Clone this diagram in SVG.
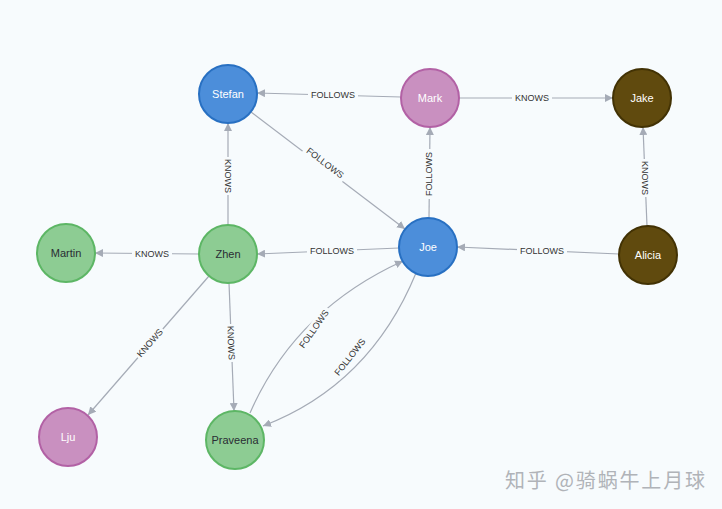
<svg xmlns="http://www.w3.org/2000/svg" width="722" height="509" viewBox="0 0 722 509">
<style>
.e{stroke:#a5abb6;stroke-width:1.2;fill:none;marker-end:url(#a)}
.l{font-family:"Liberation Sans",Arial,sans-serif;font-size:9px;fill:#333;text-anchor:middle;dominant-baseline:central}
.bg{fill:#f7fbfd}
.n{stroke-width:2}
.t{font-family:"Liberation Sans",Arial,sans-serif;font-size:11px;text-anchor:middle;dominant-baseline:central}
.blue{fill:#4c8eda;stroke:#2870c2}
.pink{fill:#c990c0;stroke:#b261a5}
.brown{fill:#604a0e;stroke:#423204}
.green{fill:#8dcc93;stroke:#5db665}
</style>
<defs><marker id="a" viewBox="0 0 10 10" refX="10" refY="5" markerWidth="8" markerHeight="8" orient="auto" markerUnits="userSpaceOnUse"><path d="M0,0L10,5L0,10z" fill="#a5abb6"/></marker></defs>
<rect width="722" height="509" fill="#f7fbfd"/>
<g id="connectors">
<line class="e" x1="401" y1="97" x2="257" y2="93"/>
<line class="e" x1="459" y1="98" x2="613" y2="98"/>
<line class="e" x1="251" y1="112" x2="405" y2="229"/>
<line class="e" x1="429" y1="218" x2="430" y2="127"/>
<line class="e" x1="228" y1="225" x2="228" y2="123"/>
<line class="e" x1="647" y1="226" x2="643" y2="127"/>
<line class="e" x1="399" y1="248" x2="257" y2="254"/>
<line class="e" x1="619" y1="254" x2="457" y2="247"/>
<line class="e" x1="199" y1="254" x2="95" y2="253"/>
<line class="e" x1="209" y1="276" x2="88" y2="415"/>
<line class="e" x1="229" y1="283" x2="234" y2="411"/>
<path class="e" d="M250,413 Q295,310 403,261"/>
<path class="e" d="M416,273 Q370,385 263,426"/>
<g>
<rect class="bg" x="308" y="89" width="50" height="12"/><text class="l" x="333" y="95">FOLLOWS</text>
<rect class="bg" x="512" y="92" width="40" height="12"/><text class="l" x="532" y="98">KNOWS</text>
<g transform="translate(325,163) rotate(37.4)"><rect class="bg" x="-25" y="-6" width="50" height="12"/><text class="l">FOLLOWS</text></g>
<g transform="translate(429,174) rotate(-90)"><rect class="bg" x="-25" y="-6" width="50" height="12"/><text class="l">FOLLOWS</text></g>
<g transform="translate(228,176) rotate(90)"><rect class="bg" x="-19" y="-6" width="38" height="12"/><text class="l">KNOWS</text></g>
<g transform="translate(645,178) rotate(90)"><rect class="bg" x="-19" y="-6" width="38" height="12"/><text class="l">KNOWS</text></g>
<rect class="bg" x="307" y="245" width="50" height="12"/><text class="l" x="332" y="251">FOLLOWS</text>
<rect class="bg" x="517" y="245" width="50" height="12"/><text class="l" x="542" y="251">FOLLOWS</text>
<rect class="bg" x="132" y="248" width="40" height="12"/><text class="l" x="152" y="254">KNOWS</text>
<g transform="translate(150,343) rotate(-49)"><rect class="bg" x="-19" y="-6" width="38" height="12"/><text class="l">KNOWS</text></g>
<g transform="translate(231,343) rotate(88)"><rect class="bg" x="-19" y="-6" width="38" height="12"/><text class="l">KNOWS</text></g>
<g transform="translate(314,329) rotate(-55)"><rect class="bg" x="-25" y="-6" width="50" height="12"/><text class="l">FOLLOWS</text></g>
<g transform="translate(350,357) rotate(-52)"><rect class="bg" x="-25" y="-6" width="50" height="12"/><text class="l">FOLLOWS</text></g>
</g>
</g>
<g id="Stefan"><circle class="n blue" cx="228" cy="94" r="29"/><text class="t" x="228" y="94" fill="#fff">Stefan</text></g>
<g id="Mark"><circle class="n pink" cx="430" cy="98" r="29"/><text class="t" x="430" y="98" fill="#fff">Mark</text></g>
<g id="Jake"><circle class="n brown" cx="642" cy="98" r="29"/><text class="t" x="642" y="98" fill="#fff">Jake</text></g>
<g id="Zhen"><circle class="n green" cx="228" cy="254" r="29"/><text class="t" x="228" y="254" fill="#2a2c34">Zhen</text></g>
<g id="Martin"><circle class="n green" cx="66" cy="253" r="29"/><text class="t" x="66" y="253" fill="#2a2c34">Martin</text></g>
<g id="Joe"><circle class="n blue" cx="428" cy="247" r="29"/><text class="t" x="428" y="247" fill="#fff">Joe</text></g>
<g id="Alicia"><circle class="n brown" cx="648" cy="255" r="29"/><text class="t" x="648" y="255" fill="#fff">Alicia</text></g>
<g id="Lju"><circle class="n pink" cx="68" cy="437" r="29"/><text class="t" x="68" y="437" fill="#fff">Lju</text></g>
<g id="Praveena"><circle class="n green" cx="235" cy="440" r="29"/><text class="t" x="235" y="440" fill="#2a2c34">Praveena</text></g>
<text x="505" y="479" font-family="'Noto Sans CJK SC',sans-serif" font-size="20" textLength="200" fill="#b0b3b8" dominant-baseline="central">知乎 @骑蜗牛上月球</text>
</svg>
